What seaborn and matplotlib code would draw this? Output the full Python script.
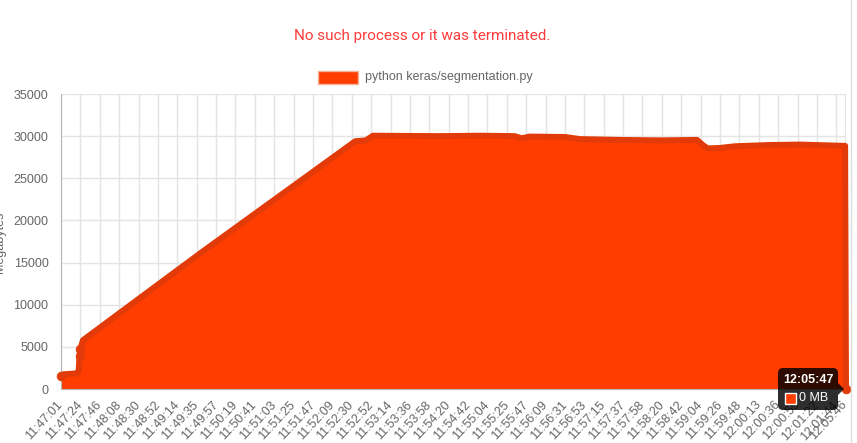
import matplotlib
matplotlib.use("Agg")
import matplotlib.pyplot as plt
from matplotlib.patches import Rectangle, FancyBboxPatch, Polygon
from matplotlib.transforms import IdentityTransform
import pandas as pd
import seaborn as sns

# tick labels of the category axis (one every ~22 samples, last one squeezed)
tick_labels = ["11:47:01", "11:47:24", "11:47:46", "11:48:08", "11:48:30", "11:48:52",
               "11:49:14", "11:49:35", "11:49:57", "11:50:19", "11:50:41", "11:51:03",
               "11:51:25", "11:51:47", "11:52:09", "11:52:30", "11:52:52", "11:53:14",
               "11:53:36", "11:53:58", "11:54:20", "11:54:42", "11:55:04", "11:55:25",
               "11:55:47", "11:56:09", "11:56:31", "11:56:53", "11:57:15", "11:57:37",
               "11:57:58", "11:58:20", "11:58:42", "11:59:04", "11:59:26", "11:59:48",
               "12:00:13", "12:00:36", "12:00:59", "12:01:22", "12:01:44", "12:05:46"]
tick_samples = [0, 22, 44, 66, 88, 110, 132, 154, 176, 198, 220, 242, 264, 286, 308,
                330, 352, 374, 396, 418, 440, 462, 484, 506, 528, 550, 572, 594, 616,
                638, 660, 682, 704, 726, 748, 770, 792, 814, 836, 858, 880, 890]

# memory readings (sample number, megabytes)
sample = [0, 3, 18, 20, 21, 22, 25, 158, 334, 346, 354, 430, 476, 515, 523, 532,
          572, 589, 635, 680, 722, 729, 734, 748, 765, 805, 839, 888, 890, 891]
megabytes = [1500, 1750, 1850, 2050, 3900, 4800, 5800, 16100, 29400, 29500, 30050,
             30000, 30050, 30000, 29750, 29950, 29900, 29650, 29550, 29500, 29550,
             28900, 28550, 28600, 28800, 28950, 29000, 28850, 28850, 0]

df = pd.DataFrame({"sample": sample, "MB": megabytes})

W, H = 857, 443
fig = plt.figure(figsize=(W / 100, H / 100), dpi=100)
sns.set_style("white")
plt.rcParams["font.family"] = ["Liberation Sans", "DejaVu Sans"]

L, R, T, B = 61, 846, 94, 389
ax = fig.add_axes([L / W, 1 - B / H, (R - L) / W, (B - T) / H])

fill_c = "#ff3d00"
line_c = "#e23a08"
grey = "#666666"

ax.fill_between(df["sample"], 0, df["MB"], color=fill_c, lw=0, zorder=2)
sns.lineplot(data=df, x="sample", y="MB", ax=ax, color=line_c, lw=4.3,
             solid_joinstyle="round", solid_capstyle="round", zorder=3, clip_on=False)
sns.scatterplot(data=df.iloc[[0, 4, 5, len(df) - 1]], x="sample", y="MB", ax=ax,
                color=line_c, s=40, edgecolor=line_c, zorder=4, clip_on=False)

ax.set_xlim(0, 891)
ax.set_ylim(0, 35000)
ax.set_yticks(range(0, 35001, 5000))
ax.set_xticks(tick_samples)
ax.set_xticklabels(tick_labels, rotation=47, ha="right", va="center",
                   rotation_mode="anchor")
ax.tick_params(axis="both", colors="#e4e4e4", labelcolor=grey, labelsize=9,
               width=1)
ax.tick_params(axis="x", length=5, pad=5)
ax.tick_params(axis="y", length=7, pad=2)
ax.grid(True, color="#e4e4e4", lw=1)
ax.set_axisbelow(True)
for s in ["top", "right"]:
    ax.spines[s].set_visible(False)
ax.spines["left"].set_color("#b5b5b5")
ax.spines["bottom"].set_color("#b5b5b5")
ax.set_xlabel("")
ax.set_ylabel("")

fig.text(0.5 / W, 1 - 242 / H, "Megabytes", rotation=90, ha="center", va="center",
         fontsize=9, color=grey)

fig.text(422 / W, 1 - 36 / H, "No such process or it was terminated.",
         ha="center", va="center", fontsize=11, color="#ff3b3b", family="Roboto")

# legend
ident = IdentityTransform()
fig.add_artist(Rectangle((318, H - 84), 40, 13, transform=ident,
                         facecolor=fill_c, edgecolor="#f3b39c", lw=1))
fig.text(365 / W, 1 - 77 / H, "python keras/segmentation.py", ha="left",
         va="center", fontsize=9, color=grey)

# right page border
fig.add_artist(plt.Line2D([851, 851], [0, H], transform=ident, color="#dddddd", lw=1))

# tooltip
fig.add_artist(FancyBboxPatch((778, H - 410), 60, 42, transform=ident,
                              boxstyle="round,pad=0,rounding_size=5",
                              facecolor="#000000", alpha=0.82, lw=0, zorder=10))
fig.add_artist(Polygon([(838, H - 383), (844, H - 389), (838, H - 395)],
                       transform=ident, facecolor="#000000", alpha=0.82, lw=0, zorder=10))
fig.text(808.5 / W, 1 - 380 / H, "12:05:47", ha="center", va="center",
         fontsize=9, color="white", weight="bold", zorder=11)
fig.add_artist(Rectangle((785, H - 404), 11, 11, transform=ident,
                         facecolor=fill_c, edgecolor="white", lw=1, zorder=11))
fig.text(799 / W, 1 - 398 / H, "0 MB", ha="left", va="center",
         fontsize=9, color="white", zorder=11)

fig.savefig("out.png", dpi=100)
